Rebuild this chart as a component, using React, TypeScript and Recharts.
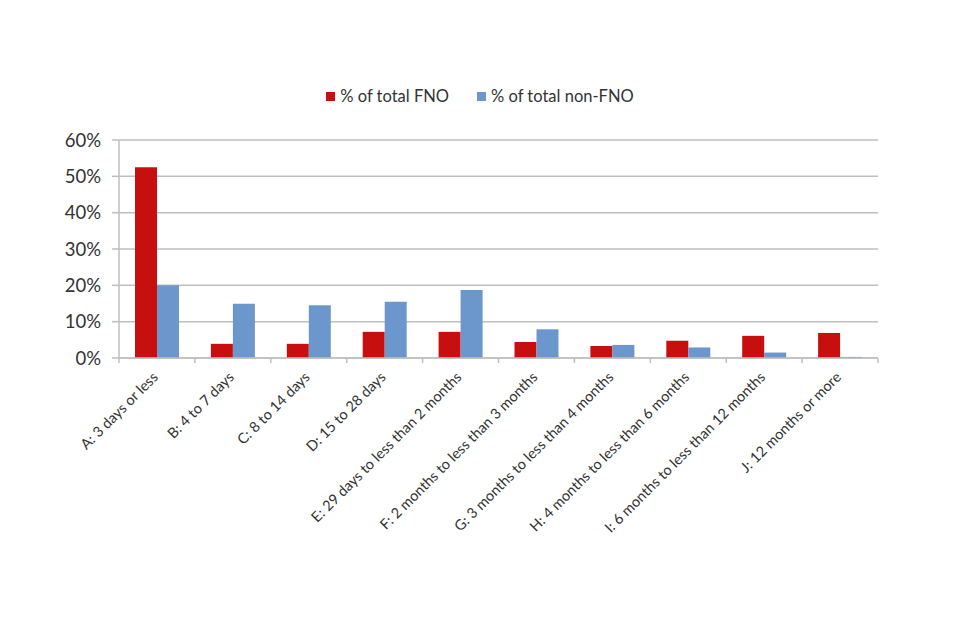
import { BarChart, Bar, XAxis, YAxis, CartesianGrid, Legend } from "recharts";

const categories = [
  "A: 3 days or less",
  "B: 4 to 7 days",
  "C: 8 to 14 days",
  "D: 15 to 28 days",
  "E: 29 days to less than 2 months",
  "F: 2 months to less than 3 months",
  "G: 3 months to less than 4 months",
  "H: 4 months to less than 6 months",
  "I: 6 months to less than 12 months",
  "J: 12 months or more",
];
const fno = [52.5, 3.9, 3.9, 7.2, 7.2, 4.4, 3.3, 4.75, 6.1, 6.9];
const nonFno = [20, 14.9, 14.5, 15.5, 18.7, 7.9, 3.6, 2.9, 1.5, 0.3];
const yTicks = [0, 10, 20, 30, 40, 50, 60];

const data = categories.map((name, i) => ({ name, fno: fno[i], nonFno: nonFno[i] }));

const RED = "#C80F0F";
const BLUE = "#6B97CC";
const GRID = "#BFBFBF";
const FONT = "Lato, 'Open Sans', sans-serif";

const W = 944;
const H = 600;
const margin = { top: 132, right: 74, left: 51, bottom: 50 };
const Y_W = 60;
const HALF_BAND = (W - margin.left - Y_W - margin.right) / categories.length / 2;

function CatTick(props: any) {
  const { x, y, payload, index } = props;
  return (
    <g>
      <line x1={x - HALF_BAND} x2={x - HALF_BAND} y1={y - 8} y2={y - 3} stroke={GRID} strokeWidth={1.5} />
      {index === categories.length - 1 && (
        <line x1={x + HALF_BAND} x2={x + HALF_BAND} y1={y - 8} y2={y - 3} stroke={GRID} strokeWidth={1.5} />
      )}
      <text
        transform={`translate(${x + 2},${y + 12}) rotate(-45)`}
        textAnchor="end"
        fontSize={14.5}
        fontFamily={FONT}
        fill="#333"
      >
        {payload.value}
      </text>
    </g>
  );
}

function LegendContent() {
  const items = [
    { label: "% of total FNO", color: RED },
    { label: "% of total non-FNO", color: BLUE },
  ];
  return (
    <div style={{ display: "flex", justifyContent: "center", gap: 28, fontFamily: FONT, fontSize: 16.5, color: "#333" }}>
      {items.map((it) => (
        <div key={it.label} style={{ display: "flex", alignItems: "center" }}>
          <span style={{ display: "inline-block", width: 9, height: 9, background: it.color, marginRight: 5 }} />
          {it.label}
        </div>
      ))}
    </div>
  );
}

export default function App() {
  return (
    <BarChart width={W} height={H} data={data} margin={margin} barGap={0} barSize={22}>
      <CartesianGrid vertical={false} stroke={GRID} strokeWidth={1.5} />
      <XAxis
        dataKey="name"
        interval={0}
        height={200}
        tick={<CatTick />}
        tickLine={false}
        axisLine={{ stroke: GRID, strokeWidth: 1.5 }}
      />
      <YAxis
        width={Y_W}
        domain={[0, 60]}
        ticks={yTicks}
        tickFormatter={(v: number) => `${v}%`}
        tickLine={{ stroke: GRID, strokeWidth: 1.5 }}
        tickSize={7}
        tickMargin={11}
        axisLine={{ stroke: GRID, strokeWidth: 1.5 }}
        tick={{ fontSize: 18.5, fontFamily: FONT, fill: "#333" }}
      />
      <Legend
        verticalAlign="middle"
        content={<LegendContent />}
        wrapperStyle={{ top: 78, left: 0, width: W }}
      />
      <Bar dataKey="fno" name="% of total FNO" fill={RED} isAnimationActive={false} />
      <Bar dataKey="nonFno" name="% of total non-FNO" fill={BLUE} isAnimationActive={false} />
    </BarChart>
  );
}
